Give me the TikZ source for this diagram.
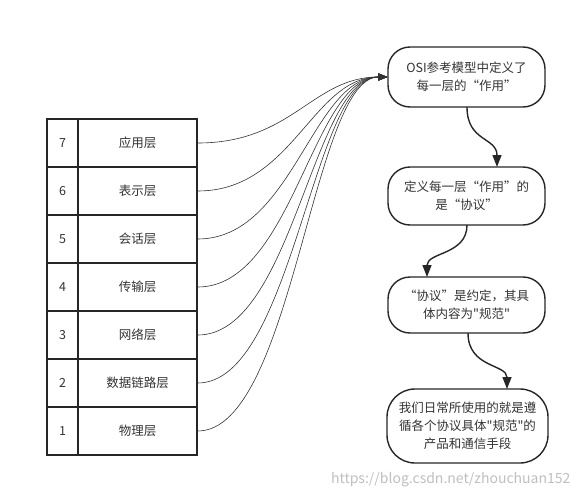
\documentclass[tikz,border=0pt]{standalone}
\usepackage{fontspec}
\newfontfamily\cjk{Noto Sans CJK SC}
\usetikzlibrary{arrows.meta}
\begin{document}
\begin{tikzpicture}[x=1pt,y=-1pt,
  txt/.style={font=\cjk\fontsize{12.5}{18}\selectfont, text=black!80},
  numcell/.style={txt, draw=black!85, line width=1.5pt, minimum width=31pt, minimum height=48pt, inner sep=0pt},
  labcell/.style={txt, draw=black!85, line width=1.5pt, minimum width=119pt, minimum height=48pt, inner sep=0pt},
  pill/.style={txt, draw=black!85, line width=1.4pt, rounded corners=22pt, inner sep=0pt, align=center},
  conn/.style={draw=black!80, line width=0.6pt, -{Triangle[length=9pt,width=7pt]}},
  flow/.style={draw=black!85, line width=1.4pt, -{Triangle[length=12pt,width=9pt]}}
]
\useasboundingbox (0,0) rectangle (581,495);
\foreach \k/\lab in {7/应用层,6/表示层,5/会话层,4/传输层,3/网络层,2/数据链路层,1/物理层}{
  \node[numcell] (n\k) at (62.5,{143+48*(7-\k)}) {\k};
  \node[labcell] (l\k) at (137.5,{143+48*(7-\k)}) {\lab};
}
\node[pill, minimum width=157pt, minimum height=60pt] (b1) at (466.5,77) {OSI参考模型中定义了\\每一层的“作用”};
\node[pill, minimum width=157pt, minimum height=58pt] (b2) at (466.5,196) {定义每一层“作用”的\\是“协议”};
\node[pill, minimum width=157pt, minimum height=56pt] (b3) at (466.5,305) {“协议”是约定，其具\\体内容为"规范"};
\node[pill, minimum width=161pt, minimum height=74pt, rounded corners=28pt] (b4) at (467.5,426) {我们日常所使用的就是遵\\循各个协议具体"规范"的\\产品和通信手段};
\foreach \k in {7,6,5,4,3,2,1}{
  \draw[conn] (l\k.east) .. controls +(95,0) and +(-75,0) .. (b1.west);
}
\coordinate (b1s) at (467,107);
\coordinate (b2n) at (497,167);
\coordinate (b2s) at (467,225);
\coordinate (b3n) at (427,277);
\coordinate (b3s) at (468,333);
\coordinate (b4n) at (507,389);
\draw[flow] (b1s) .. controls +(0,35) and +(0,-30) .. (b2n);
\draw[flow] (b2s) .. controls +(0,30) and +(0,-25) .. (b3n);
\draw[flow] (b3s) .. controls +(0,35) and +(0,-25) .. (b4n);
\node[font=\cjk\fontsize{14}{16}\selectfont, text=black!25, anchor=east] (wm) at (574,480) {https://blog.csdn.net/zhouchuan152};
\end{tikzpicture}
\end{document}
